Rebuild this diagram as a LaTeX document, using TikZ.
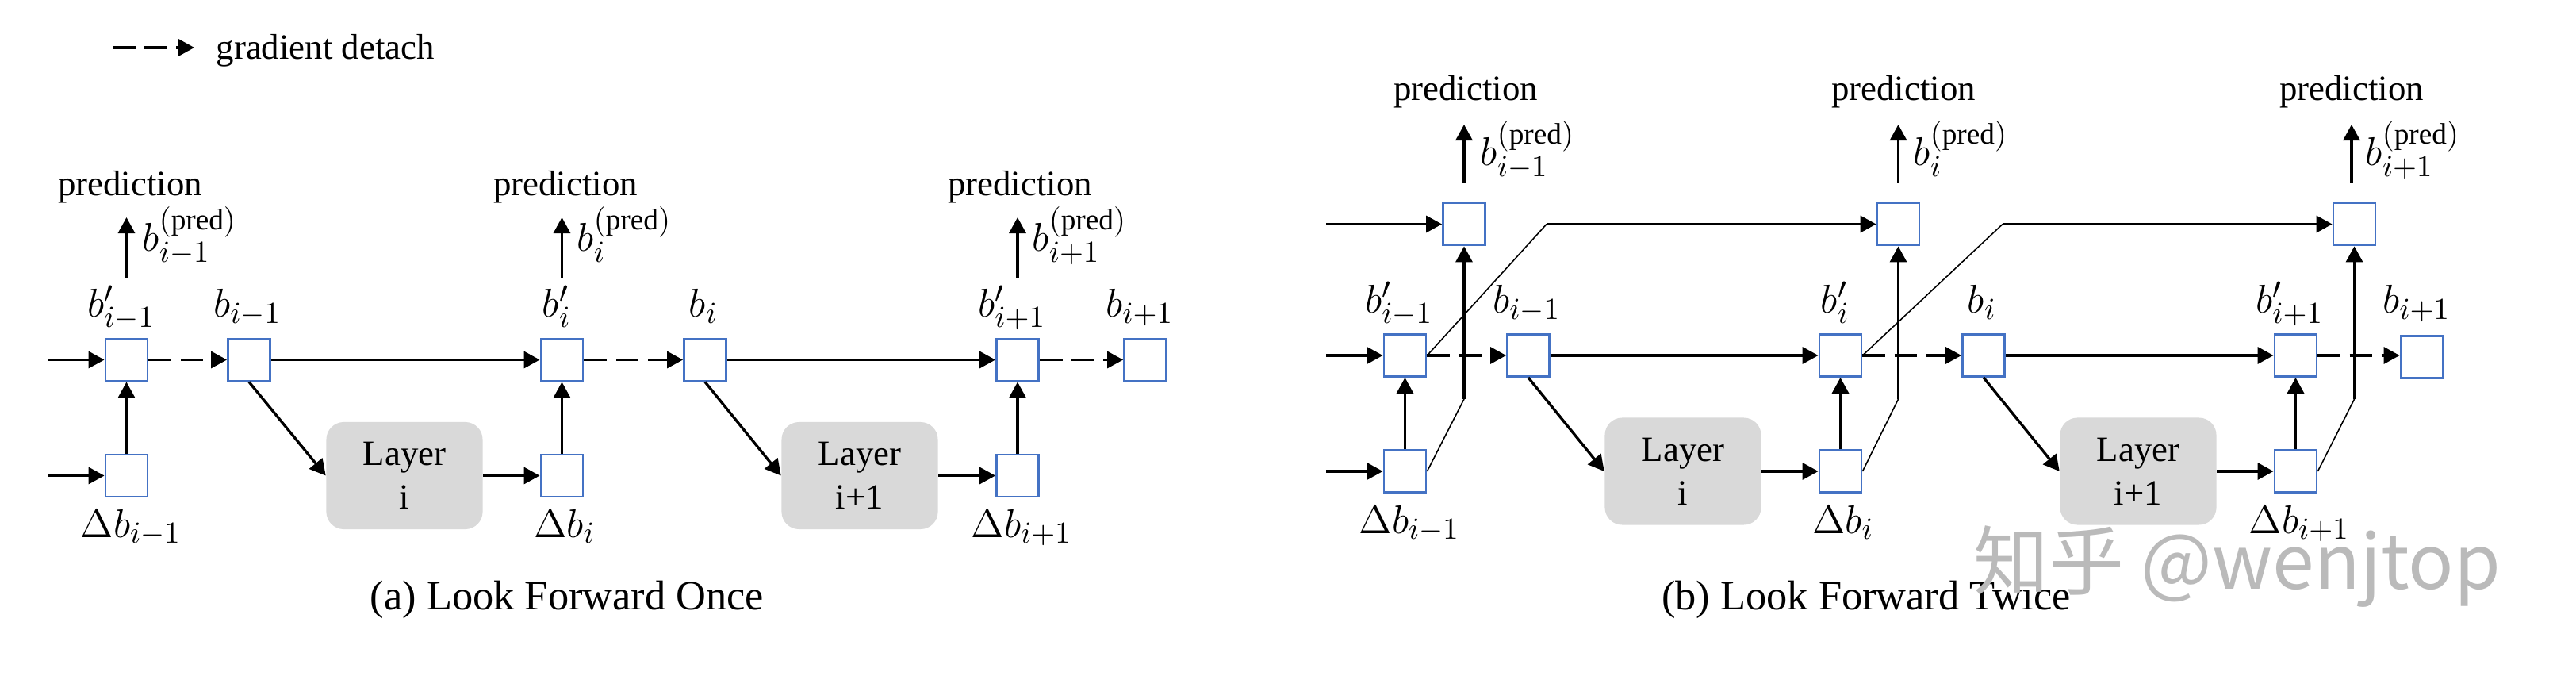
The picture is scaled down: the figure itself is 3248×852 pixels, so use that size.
\documentclass[tikz,border=0pt]{standalone}
\usepackage{fontspec}
\setmainfont{Liberation Serif}
\newfontfamily\cjk{Noto Sans CJK SC}
\usetikzlibrary{arrows.meta}
\DeclareMathSizes{13.8}{13.8}{10.6}{8}
\definecolor{boxblue}{HTML}{4472C4}
\definecolor{layergray}{HTML}{D9D9D9}
\definecolor{wmgray}{HTML}{BABABA}
\begin{document}
\begin{tikzpicture}[x=0.01cm,y=-0.01cm,
  bx/.style={draw=boxblue,line width=0.8pt,fill=white,minimum size=0.53cm,inner sep=0pt},
  layerbox/.style={fill=layergray,rounded corners=0.22cm,minimum width=1.97cm,minimum height=1.35cm,align=center,font=\fontsize{12.75}{15.6}\selectfont,inner sep=0pt},
  arr/.style={-{Triangle[length=2mm,width=2.1mm]},line width=0.95pt},
  darr/.style={arr,dash pattern=on 8.2pt off 3.2pt},
  thinln/.style={line width=0.45pt},
  txt/.style={font=\fontsize{12.75}{15}\selectfont,inner sep=0pt},
  mth/.style={font=\fontsize{13.8}{16}\selectfont,inner sep=0pt},
  captxt/.style={font=\fontsize{14.9}{18}\selectfont,inner sep=0pt},
]
\useasboundingbox (0,0) rectangle (3248,852);

% ---------------- legend ----------------
\coordinate (lg-s) at (142,60);
\coordinate (lg-e) at (245,60);
\draw[darr] (lg-s) -- (lg-e);
\node[txt,anchor=base west] (lg-t) at (272,75) {gradient detach};

% ---------------- panel (a) ----------------
\node[bx] (a-bp1) at (159.5,453.5) {};
\node[bx] (a-b1) at (314,453.5) {};
\node[bx] (a-d1) at (159.5,599.5) {};
\node[layerbox] (a-L1) at (510,599.5) {Layer\\i};
\node[bx] (a-bp2) at (708.5,453.5) {};
\node[bx] (a-d2) at (708.5,599.5) {};
\node[bx] (a-b2) at (889,453.5) {};
\node[layerbox] (a-L2) at (1084,599.5) {Layer\\i+1};
\node[bx] (a-bp3) at (1283,453.5) {};
\node[bx] (a-d3) at (1283,599.5) {};
\node[bx] (a-b3) at (1444,453.5) {};

\coordinate (a-in1) at (61,453.5);
\coordinate (a-in2) at (61,599.5);
\draw[arr] (a-in1) -- (a-bp1);
\draw[arr] (a-in2) -- (a-d1);
\draw[arr] (a-d1) -- (a-bp1);
\draw[darr] (a-bp1) -- (a-b1);
\draw[arr] (a-b1) -- (a-bp2);
\draw[arr] (a-b1.south) -- (a-L1.west);
\draw[arr] (a-L1) -- (a-d2);
\draw[arr] (a-d2) -- (a-bp2);
\draw[darr] (a-bp2) -- (a-b2);
\draw[arr] (a-b2) -- (a-bp3);
\draw[arr] (a-b2.south) -- (a-L2.west);
\draw[arr] (a-L2) -- (a-d3);
\draw[arr] (a-d3) -- (a-bp3);
\draw[darr] (a-bp3) -- (a-b3);

% labels (a)
\node[mth,anchor=base] (a-lbp1) at (153,400) {$b'_{i-1}$};
\node[mth,anchor=base] (a-lb1) at (312,400) {$b_{i-1}$};
\node[mth,anchor=base] (a-ld1) at (165,677) {$\Delta b_{i-1}$};
\node[mth,anchor=base] (a-lbp2) at (702,400) {$b'_{i}$};
\node[mth,anchor=base] (a-lb2) at (887,400) {$b_{i}$};
\node[mth,anchor=base] (a-ld2) at (712,677) {$\Delta b_{i}$};
\node[mth,anchor=base] (a-lbp3) at (1276,400) {$b'_{i+1}$};
\node[mth,anchor=base] (a-lb3) at (1437,400) {$b_{i+1}$};
\node[mth,anchor=base] (a-ld3) at (1288,677) {$\Delta b_{i+1}$};

% predictions (a)
\coordinate (a-u1s) at (159.5,350); \coordinate (a-u1e) at (159.5,274);
\coordinate (a-u2s) at (708.5,350); \coordinate (a-u2e) at (708.5,274);
\coordinate (a-u3s) at (1283,350);  \coordinate (a-u3e) at (1283,274);
\draw[arr] (a-u1s) -- (a-u1e);
\draw[arr] (a-u2s) -- (a-u2e);
\draw[arr] (a-u3s) -- (a-u3e);
\node[mth,anchor=base west] (a-p1) at (179,317) {$b^{(\mathrm{pred})}_{i-1}$};
\node[mth,anchor=base west] (a-p2) at (727,317) {$b^{(\mathrm{pred})}_{i}$};
\node[mth,anchor=base west] (a-p3) at (1301,317) {$b^{(\mathrm{pred})}_{i+1}$};
\node[txt,anchor=base] (a-t1) at (164,247) {prediction};
\node[txt,anchor=base] (a-t2) at (713,247) {prediction};
\node[txt,anchor=base] (a-t3) at (1286,247) {prediction};

\node[captxt,anchor=base] (a-cap) at (715,768) {(a) Look Forward Once};

% ---------------- panel (b) ----------------
\node[bx] (b-tp1) at (1846,282.5) {};
\node[bx] (b-bp1) at (1771.5,448) {};
\node[bx] (b-b1) at (1927,448) {};
\node[bx] (b-d1) at (1771.5,594) {};
\node[layerbox] (b-L1) at (2122,594) {Layer\\i};
\node[bx] (b-bp2) at (2320.5,448) {};
\node[bx] (b-d2) at (2320.5,594) {};
\node[bx] (b-tp2) at (2393.5,282.5) {};
\node[bx] (b-b2) at (2501,448) {};
\node[layerbox] (b-L2) at (2696,594) {Layer\\i+1};
\node[bx] (b-bp3) at (2894.5,448) {};
\node[bx] (b-d3) at (2894.5,594) {};
\node[bx] (b-tp3) at (2968.5,282.5) {};
\node[bx] (b-b3) at (3053.5,450) {};

\coordinate (b-in0) at (1672,282.5);
\coordinate (b-in1) at (1672,448);
\coordinate (b-in2) at (1672,594);
\draw[arr] (b-in0) -- (b-tp1);
\draw[arr] (b-in1) -- (b-bp1);
\draw[arr] (b-in2) -- (b-d1);
\draw[arr] (b-d1) -- (b-bp1);
\draw[darr] (b-bp1) -- (b-b1);
\draw[arr] (b-b1) -- (b-bp2);
\draw[arr] (b-b1.south) -- (b-L1.west);
\draw[arr] (b-L1) -- (b-d2);
\draw[arr] (b-d2) -- (b-bp2);
\draw[darr] (b-bp2) -- (b-b2);
\draw[arr] (b-b2) -- (b-bp3);
\draw[arr] (b-b2.south) -- (b-L2.west);
\draw[arr] (b-L2) -- (b-d3);
\draw[arr] (b-d3) -- (b-bp3);
\draw[darr] (b-bp3.east) -- (b-bp3.east -| b-b3.west);

% look-forward-twice paths
\coordinate (b-k1) at (1846,503);
\coordinate (b-k2) at (2393.5,503);
\coordinate (b-k3) at (2968.5,503);
\coordinate (b-h1) at (1950,282.5);
\coordinate (b-h2) at (2525,282.5);
\draw[thinln] (b-d1.east) -- (b-k1);
\draw[arr] (b-k1) -- (b-tp1);
\draw[thinln] (b-d2.east) -- (b-k2);
\draw[arr] (b-k2) -- (b-tp2);
\draw[thinln] (b-d3.east) -- (b-k3);
\draw[arr] (b-k3) -- (b-tp3);
\draw[thinln] (b-bp1.east) -- (b-h1);
\draw[arr] (b-h1) -- (b-tp2);
\draw[thinln] (b-bp2.east) -- (b-h2);
\draw[arr] (b-h2) -- (b-tp3);

% labels (b)
\node[mth,anchor=base] (b-lbp1) at (1764,395) {$b'_{i-1}$};
\node[mth,anchor=base] (b-lb1) at (1925,395) {$b_{i-1}$};
\node[mth,anchor=base] (b-ld1) at (1777,672) {$\Delta b_{i-1}$};
\node[mth,anchor=base] (b-lbp2) at (2314,395) {$b'_{i}$};
\node[mth,anchor=base] (b-lb2) at (2499,395) {$b_{i}$};
\node[mth,anchor=base] (b-ld2) at (2324,672) {$\Delta b_{i}$};
\node[mth,anchor=base] (b-lbp3) at (2887,395) {$b'_{i+1}$};
\node[mth,anchor=base] (b-lb3) at (3047,395) {$b_{i+1}$};
\node[mth,anchor=base] (b-ld3) at (2899,672) {$\Delta b_{i+1}$};

% predictions (b)
\coordinate (b-u1s) at (1846,231);   \coordinate (b-u1e) at (1846,157);
\coordinate (b-u2s) at (2393.5,231); \coordinate (b-u2e) at (2393.5,157);
\coordinate (b-u3s) at (2965,231);   \coordinate (b-u3e) at (2965,157);
\draw[arr] (b-u1s) -- (b-u1e);
\draw[arr] (b-u2s) -- (b-u2e);
\draw[arr] (b-u3s) -- (b-u3e);
\node[mth,anchor=base west] (b-p1) at (1866,209) {$b^{(\mathrm{pred})}_{i-1}$};
\node[mth,anchor=base west] (b-p2) at (2412,209) {$b^{(\mathrm{pred})}_{i}$};
\node[mth,anchor=base west] (b-p3) at (2982,209) {$b^{(\mathrm{pred})}_{i+1}$};
\node[txt,anchor=base] (b-t1) at (1848,127) {prediction};
\node[txt,anchor=base] (b-t2) at (2400,127) {prediction};
\node[txt,anchor=base] (b-t3) at (2965,127) {prediction};

\node[captxt,anchor=base] (b-cap) at (2353,768) {(b) Look Forward Twice};

% watermark
\node[anchor=base west,inner sep=0pt,text=wmgray,font=\cjk\fontsize{27}{30}\selectfont] (wm) at (2488,742) {知乎 @wenjtop};
\end{tikzpicture}
\end{document}
